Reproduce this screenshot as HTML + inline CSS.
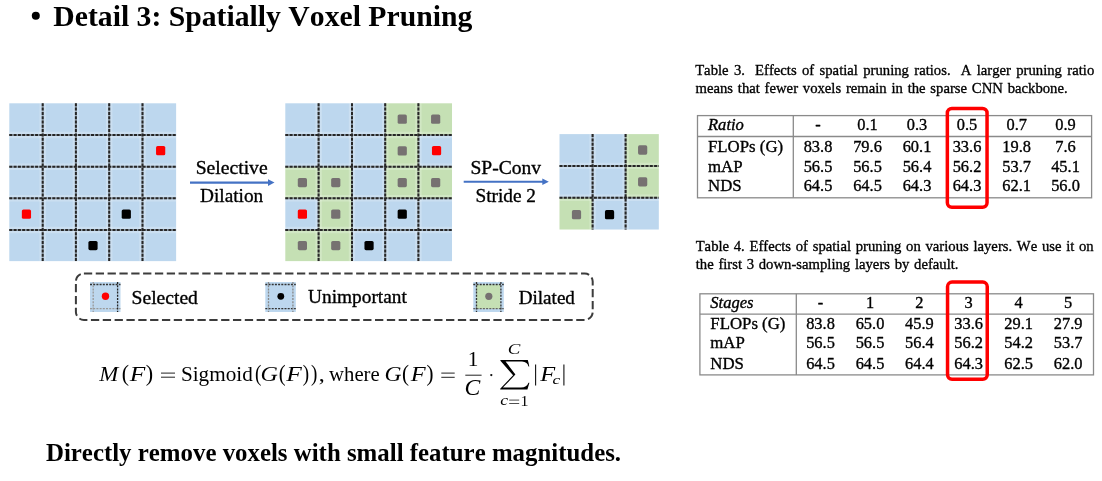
<!DOCTYPE html>
<html><head><meta charset="utf-8"><style>
html,body{margin:0;padding:0;background:#fff;}
body{width:1102px;height:481px;overflow:hidden;}
svg{display:block;will-change:transform;filter:blur(0.35px);font-family:"Liberation Serif",serif;font-kerning:none;font-variant-ligatures:none;}
text{white-space:pre;}
.halo{stroke:rgba(255,255,255,0.22);stroke-width:6.4;}
.ul{stroke:rgba(30,30,30,0.28);stroke-width:2;}
.dl{stroke:#262626;stroke-width:2;stroke-dasharray:3 1.3;}
.dl2{stroke-width:1.3;stroke-dasharray:2 1.2;}
.tl{stroke:#8a8a8a;stroke-width:1.3;}
text{fill:#000;}
.thk text, text.thk{stroke:#000;stroke-width:0.35px;stroke-linejoin:round;}
</style></head><body>
<svg width="1102" height="481" viewBox="0 0 1102 481">
<circle cx="35.8" cy="15.8" r="4" fill="#000"/>
<text transform="translate(53.28,26.00) scale(0.9900,1.0000)" font-size="30" font-weight="bold" >Detail 3: Spatially Voxel Pruning</text>
<text transform="translate(45.96,461.00) scale(0.9950,1.0000)" font-size="25" font-weight="bold" >Directly remove voxels with small feature magnitudes.</text>
<rect x="9.30" y="103.30" width="33.42" height="31.72" fill="#BDD7EE"/>
<rect x="42.70" y="103.30" width="33.22" height="31.72" fill="#BDD7EE"/>
<rect x="75.90" y="103.30" width="33.32" height="31.72" fill="#BDD7EE"/>
<rect x="109.20" y="103.30" width="33.32" height="31.72" fill="#BDD7EE"/>
<rect x="142.50" y="103.30" width="33.62" height="31.72" fill="#BDD7EE"/>
<rect x="9.30" y="135.00" width="33.42" height="31.82" fill="#BDD7EE"/>
<rect x="42.70" y="135.00" width="33.22" height="31.82" fill="#BDD7EE"/>
<rect x="75.90" y="135.00" width="33.32" height="31.82" fill="#BDD7EE"/>
<rect x="109.20" y="135.00" width="33.32" height="31.82" fill="#BDD7EE"/>
<rect x="142.50" y="135.00" width="33.62" height="31.82" fill="#BDD7EE"/>
<rect x="9.30" y="166.80" width="33.42" height="31.52" fill="#BDD7EE"/>
<rect x="42.70" y="166.80" width="33.22" height="31.52" fill="#BDD7EE"/>
<rect x="75.90" y="166.80" width="33.32" height="31.52" fill="#BDD7EE"/>
<rect x="109.20" y="166.80" width="33.32" height="31.52" fill="#BDD7EE"/>
<rect x="142.50" y="166.80" width="33.62" height="31.52" fill="#BDD7EE"/>
<rect x="9.30" y="198.30" width="33.42" height="31.72" fill="#BDD7EE"/>
<rect x="42.70" y="198.30" width="33.22" height="31.72" fill="#BDD7EE"/>
<rect x="75.90" y="198.30" width="33.32" height="31.72" fill="#BDD7EE"/>
<rect x="109.20" y="198.30" width="33.32" height="31.72" fill="#BDD7EE"/>
<rect x="142.50" y="198.30" width="33.62" height="31.72" fill="#BDD7EE"/>
<rect x="9.30" y="230.00" width="33.42" height="31.12" fill="#BDD7EE"/>
<rect x="42.70" y="230.00" width="33.22" height="31.12" fill="#BDD7EE"/>
<rect x="75.90" y="230.00" width="33.32" height="31.12" fill="#BDD7EE"/>
<rect x="109.20" y="230.00" width="33.32" height="31.12" fill="#BDD7EE"/>
<rect x="142.50" y="230.00" width="33.62" height="31.12" fill="#BDD7EE"/>
<line x1="42.70" y1="103.3" x2="42.70" y2="261.10" class="halo"/>
<line x1="9.3" y1="135.00" x2="176.10" y2="135.00" class="halo"/>
<line x1="75.90" y1="103.3" x2="75.90" y2="261.10" class="halo"/>
<line x1="9.3" y1="166.80" x2="176.10" y2="166.80" class="halo"/>
<line x1="109.20" y1="103.3" x2="109.20" y2="261.10" class="halo"/>
<line x1="9.3" y1="198.30" x2="176.10" y2="198.30" class="halo"/>
<line x1="142.50" y1="103.3" x2="142.50" y2="261.10" class="halo"/>
<line x1="9.3" y1="230.00" x2="176.10" y2="230.00" class="halo"/>
<line x1="42.70" y1="103.3" x2="42.70" y2="261.10" class="ul"/>
<line x1="9.3" y1="135.00" x2="176.10" y2="135.00" class="ul"/>
<line x1="75.90" y1="103.3" x2="75.90" y2="261.10" class="ul"/>
<line x1="9.3" y1="166.80" x2="176.10" y2="166.80" class="ul"/>
<line x1="109.20" y1="103.3" x2="109.20" y2="261.10" class="ul"/>
<line x1="9.3" y1="198.30" x2="176.10" y2="198.30" class="ul"/>
<line x1="142.50" y1="103.3" x2="142.50" y2="261.10" class="ul"/>
<line x1="9.3" y1="230.00" x2="176.10" y2="230.00" class="ul"/>
<line x1="42.70" y1="103.3" x2="42.70" y2="261.10" class="dl"/>
<line x1="9.3" y1="135.00" x2="176.10" y2="135.00" class="dl"/>
<line x1="75.90" y1="103.3" x2="75.90" y2="261.10" class="dl"/>
<line x1="9.3" y1="166.80" x2="176.10" y2="166.80" class="dl"/>
<line x1="109.20" y1="103.3" x2="109.20" y2="261.10" class="dl"/>
<line x1="9.3" y1="198.30" x2="176.10" y2="198.30" class="dl"/>
<line x1="142.50" y1="103.3" x2="142.50" y2="261.10" class="dl"/>
<line x1="9.3" y1="230.00" x2="176.10" y2="230.00" class="dl"/>
<rect x="156.05" y="145.95" width="9.2" height="9.3" rx="1.6" fill="#FF0000"/>
<rect x="21.85" y="209.50" width="9.2" height="9.3" rx="1.6" fill="#FF0000"/>
<rect x="121.70" y="209.50" width="9.2" height="9.3" rx="1.6" fill="#000000"/>
<rect x="88.40" y="240.90" width="9.2" height="9.3" rx="1.6" fill="#000000"/>
<rect x="285.30" y="103.30" width="33.32" height="31.72" fill="#BDD7EE"/>
<rect x="318.60" y="103.30" width="33.42" height="31.72" fill="#BDD7EE"/>
<rect x="352.00" y="103.30" width="33.22" height="31.72" fill="#BDD7EE"/>
<rect x="385.20" y="103.30" width="33.22" height="31.72" fill="#C5E0B4"/>
<rect x="418.40" y="103.30" width="33.62" height="31.72" fill="#C5E0B4"/>
<rect x="285.30" y="135.00" width="33.32" height="31.82" fill="#BDD7EE"/>
<rect x="318.60" y="135.00" width="33.42" height="31.82" fill="#BDD7EE"/>
<rect x="352.00" y="135.00" width="33.22" height="31.82" fill="#BDD7EE"/>
<rect x="385.20" y="135.00" width="33.22" height="31.82" fill="#C5E0B4"/>
<rect x="418.40" y="135.00" width="33.62" height="31.82" fill="#BDD7EE"/>
<rect x="285.30" y="166.80" width="33.32" height="31.52" fill="#C5E0B4"/>
<rect x="318.60" y="166.80" width="33.42" height="31.52" fill="#C5E0B4"/>
<rect x="352.00" y="166.80" width="33.22" height="31.52" fill="#BDD7EE"/>
<rect x="385.20" y="166.80" width="33.22" height="31.52" fill="#C5E0B4"/>
<rect x="418.40" y="166.80" width="33.62" height="31.52" fill="#C5E0B4"/>
<rect x="285.30" y="198.30" width="33.32" height="31.72" fill="#BDD7EE"/>
<rect x="318.60" y="198.30" width="33.42" height="31.72" fill="#C5E0B4"/>
<rect x="352.00" y="198.30" width="33.22" height="31.72" fill="#BDD7EE"/>
<rect x="385.20" y="198.30" width="33.22" height="31.72" fill="#BDD7EE"/>
<rect x="418.40" y="198.30" width="33.62" height="31.72" fill="#BDD7EE"/>
<rect x="285.30" y="230.00" width="33.32" height="31.12" fill="#C5E0B4"/>
<rect x="318.60" y="230.00" width="33.42" height="31.12" fill="#C5E0B4"/>
<rect x="352.00" y="230.00" width="33.22" height="31.12" fill="#BDD7EE"/>
<rect x="385.20" y="230.00" width="33.22" height="31.12" fill="#BDD7EE"/>
<rect x="418.40" y="230.00" width="33.62" height="31.12" fill="#BDD7EE"/>
<line x1="318.60" y1="103.3" x2="318.60" y2="261.10" class="halo"/>
<line x1="285.3" y1="135.00" x2="452.00" y2="135.00" class="halo"/>
<line x1="352.00" y1="103.3" x2="352.00" y2="261.10" class="halo"/>
<line x1="285.3" y1="166.80" x2="452.00" y2="166.80" class="halo"/>
<line x1="385.20" y1="103.3" x2="385.20" y2="261.10" class="halo"/>
<line x1="285.3" y1="198.30" x2="452.00" y2="198.30" class="halo"/>
<line x1="418.40" y1="103.3" x2="418.40" y2="261.10" class="halo"/>
<line x1="285.3" y1="230.00" x2="452.00" y2="230.00" class="halo"/>
<line x1="318.60" y1="103.3" x2="318.60" y2="261.10" class="ul"/>
<line x1="285.3" y1="135.00" x2="452.00" y2="135.00" class="ul"/>
<line x1="352.00" y1="103.3" x2="352.00" y2="261.10" class="ul"/>
<line x1="285.3" y1="166.80" x2="452.00" y2="166.80" class="ul"/>
<line x1="385.20" y1="103.3" x2="385.20" y2="261.10" class="ul"/>
<line x1="285.3" y1="198.30" x2="452.00" y2="198.30" class="ul"/>
<line x1="418.40" y1="103.3" x2="418.40" y2="261.10" class="ul"/>
<line x1="285.3" y1="230.00" x2="452.00" y2="230.00" class="ul"/>
<line x1="318.60" y1="103.3" x2="318.60" y2="261.10" class="dl"/>
<line x1="285.3" y1="135.00" x2="452.00" y2="135.00" class="dl"/>
<line x1="352.00" y1="103.3" x2="352.00" y2="261.10" class="dl"/>
<line x1="285.3" y1="166.80" x2="452.00" y2="166.80" class="dl"/>
<line x1="385.20" y1="103.3" x2="385.20" y2="261.10" class="dl"/>
<line x1="285.3" y1="198.30" x2="452.00" y2="198.30" class="dl"/>
<line x1="418.40" y1="103.3" x2="418.40" y2="261.10" class="dl"/>
<line x1="285.3" y1="230.00" x2="452.00" y2="230.00" class="dl"/>
<rect x="397.65" y="114.50" width="9.2" height="9.3" rx="1.6" fill="#767171"/>
<rect x="431.05" y="114.50" width="9.2" height="9.3" rx="1.6" fill="#767171"/>
<rect x="397.65" y="146.25" width="9.2" height="9.3" rx="1.6" fill="#767171"/>
<rect x="431.95" y="145.95" width="9.2" height="9.3" rx="1.6" fill="#FF0000"/>
<rect x="297.80" y="177.90" width="9.2" height="9.3" rx="1.6" fill="#767171"/>
<rect x="331.15" y="177.90" width="9.2" height="9.3" rx="1.6" fill="#767171"/>
<rect x="397.65" y="177.90" width="9.2" height="9.3" rx="1.6" fill="#767171"/>
<rect x="431.05" y="177.90" width="9.2" height="9.3" rx="1.6" fill="#767171"/>
<rect x="297.80" y="209.50" width="9.2" height="9.3" rx="1.6" fill="#FF0000"/>
<rect x="331.15" y="209.50" width="9.2" height="9.3" rx="1.6" fill="#767171"/>
<rect x="397.65" y="209.50" width="9.2" height="9.3" rx="1.6" fill="#000000"/>
<rect x="297.80" y="240.90" width="9.2" height="9.3" rx="1.6" fill="#767171"/>
<rect x="331.15" y="240.90" width="9.2" height="9.3" rx="1.6" fill="#767171"/>
<rect x="364.45" y="240.90" width="9.2" height="9.3" rx="1.6" fill="#000000"/>
<rect x="559.50" y="134.10" width="33.12" height="31.82" fill="#BDD7EE"/>
<rect x="592.60" y="134.10" width="33.02" height="31.82" fill="#BDD7EE"/>
<rect x="625.60" y="134.10" width="33.22" height="31.82" fill="#C5E0B4"/>
<rect x="559.50" y="165.90" width="33.12" height="31.82" fill="#BDD7EE"/>
<rect x="592.60" y="165.90" width="33.02" height="31.82" fill="#BDD7EE"/>
<rect x="625.60" y="165.90" width="33.22" height="31.82" fill="#C5E0B4"/>
<rect x="559.50" y="197.70" width="33.12" height="31.82" fill="#C5E0B4"/>
<rect x="592.60" y="197.70" width="33.02" height="31.82" fill="#BDD7EE"/>
<rect x="625.60" y="197.70" width="33.22" height="31.82" fill="#BDD7EE"/>
<line x1="592.60" y1="134.1" x2="592.60" y2="229.50" class="halo"/>
<line x1="559.5" y1="165.90" x2="658.80" y2="165.90" class="halo"/>
<line x1="625.60" y1="134.1" x2="625.60" y2="229.50" class="halo"/>
<line x1="559.5" y1="197.70" x2="658.80" y2="197.70" class="halo"/>
<line x1="592.60" y1="134.1" x2="592.60" y2="229.50" class="ul"/>
<line x1="559.5" y1="165.90" x2="658.80" y2="165.90" class="ul"/>
<line x1="625.60" y1="134.1" x2="625.60" y2="229.50" class="ul"/>
<line x1="559.5" y1="197.70" x2="658.80" y2="197.70" class="ul"/>
<line x1="592.60" y1="134.1" x2="592.60" y2="229.50" class="dl"/>
<line x1="559.5" y1="165.90" x2="658.80" y2="165.90" class="dl"/>
<line x1="625.60" y1="134.1" x2="625.60" y2="229.50" class="dl"/>
<line x1="559.5" y1="197.70" x2="658.80" y2="197.70" class="dl"/>
<rect x="638.05" y="145.35" width="9.2" height="9.3" rx="1.6" fill="#767171"/>
<rect x="638.05" y="177.15" width="9.2" height="9.3" rx="1.6" fill="#767171"/>
<rect x="571.90" y="210.05" width="9.2" height="9.3" rx="1.6" fill="#767171"/>
<rect x="604.95" y="210.05" width="9.2" height="9.3" rx="1.6" fill="#000000"/>
<line x1="190" y1="182.6" x2="269.5" y2="182.6" stroke="#4472C4" stroke-width="2.1"/><path d="M268.0,179.29999999999998 L274.5,182.6 L268.0,185.9 Z" fill="#4472C4"/>
<line x1="463.7" y1="181.8" x2="543.8" y2="181.8" stroke="#4472C4" stroke-width="2.1"/><path d="M542.3,178.5 L548.8,181.8 L542.3,185.10000000000002 Z" fill="#4472C4"/>
<g class="thk"><text transform="translate(195.69,174.40) scale(1.0339,1.0000)" font-size="19" >Selective</text>
<text transform="translate(200.04,202.00) scale(1.0157,1.0000)" font-size="19" >Dilation</text>
<text transform="translate(470.49,174.00) scale(1.0302,1.0000)" font-size="19" >SP-Conv</text>
<text transform="translate(475.51,202.00) scale(1.0154,1.0000)" font-size="19" >Stride 2</text>
<text transform="translate(131.59,303.90) scale(1.0310,1.0000)" font-size="19" >Selected</text>
<text transform="translate(308.09,303.40) scale(1.0177,1.0000)" font-size="19" >Unimportant</text>
<text transform="translate(518.75,303.70) scale(1.0046,1.0000)" font-size="19" >Dilated</text></g>
<rect x="75.9" y="273.5" width="516.8" height="46.4" rx="8" fill="none" stroke="#3c3c3c" stroke-width="2" stroke-dasharray="8.3 3.5369"/><rect x="90" y="282" width="30.5" height="30" fill="#BDD7EE"/>
<line x1="90" y1="284.5" x2="120.5" y2="284.5" class="dl2" stroke="#333"/>
<line x1="90" y1="308.6" x2="120.5" y2="308.6" class="dl2" stroke="#999"/>
<line x1="93.2" y1="282" x2="93.2" y2="312" class="dl2" stroke="#999"/>
<line x1="117.6" y1="282" x2="117.6" y2="312" class="dl2" stroke="#222"/>
<circle cx="105.5" cy="296.3" r="3.7" fill="#FF0000"/><rect x="265.3" y="282" width="30.5" height="30" fill="#BDD7EE"/>
<line x1="265.3" y1="284.5" x2="295.8" y2="284.5" class="dl2" stroke="#333"/>
<line x1="265.3" y1="308.6" x2="295.8" y2="308.6" class="dl2" stroke="#333"/>
<line x1="268.5" y1="282" x2="268.5" y2="312" class="dl2" stroke="#888"/>
<line x1="292.90000000000003" y1="282" x2="292.90000000000003" y2="312" class="dl2" stroke="#888"/>
<circle cx="280.8" cy="296.3" r="3.4" fill="#000000"/><rect x="473.3" y="282" width="30.5" height="30" fill="#BDD7EE"/>
<rect x="476.3" y="284.5" width="24" height="24.5" fill="#C5E0B4"/>
<line x1="473.3" y1="284.5" x2="503.8" y2="284.5" class="dl2" stroke="#333"/>
<line x1="473.3" y1="308.6" x2="503.8" y2="308.6" class="dl2" stroke="#666"/>
<line x1="476.5" y1="282" x2="476.5" y2="312" class="dl2" stroke="#333"/>
<line x1="500.90000000000003" y1="282" x2="500.90000000000003" y2="312" class="dl2" stroke="#333"/>
<circle cx="488.8" cy="296.3" r="3.6" fill="#767171"/>
<text transform="translate(99.37,380.60) scale(1.0654,1.0000)" font-size="21.5" font-style="italic" >M</text>
<text transform="translate(121.74,380.80) scale(1.0902,1.1745)" font-size="20" >(</text>
<text transform="translate(129.74,380.60) scale(1.1842,1.0000)" font-size="21.5" font-style="italic" >F</text>
<text transform="translate(145.68,380.80) scale(1.1097,1.1745)" font-size="20" >)</text>
<line x1="161" y1="373.1" x2="175" y2="373.1" stroke="#222" stroke-width="1.0"/><line x1="161" y1="377.2" x2="175" y2="377.2" stroke="#222" stroke-width="1.0"/>
<text transform="translate(180.88,380.60) scale(1.0602,1.0000)" font-size="20" >Sigmoid</text>
<text transform="translate(255.06,380.80) scale(0.9539,1.1745)" font-size="20" >(</text>
<text transform="translate(260.38,380.60) scale(1.1168,1.0000)" font-size="21.5" font-style="italic" >G</text>
<text transform="translate(278.69,380.80) scale(1.0318,1.1745)" font-size="20" >(</text>
<text transform="translate(286.34,380.60) scale(1.1842,1.0000)" font-size="21.5" font-style="italic" >F</text>
<text transform="translate(302.69,380.80) scale(0.9539,1.1745)" font-size="20" >)</text>
<text transform="translate(310.89,380.80) scale(0.9539,1.1745)" font-size="20" >)</text>
<text transform="translate(318.78,380.60) scale(1.2087,1.0000)" font-size="20" >,</text>
<text transform="translate(329.08,380.60) scale(1.0365,1.0000)" font-size="20" >where</text>
<text transform="translate(384.50,380.60) scale(1.0952,1.0000)" font-size="21.5" font-style="italic" >G</text>
<text transform="translate(401.98,380.80) scale(1.0513,1.1745)" font-size="20" >(</text>
<text transform="translate(410.63,380.60) scale(1.1320,1.0000)" font-size="21.5" font-style="italic" >F</text>
<text transform="translate(426.52,380.80) scale(1.0513,1.1745)" font-size="20" >)</text>
<line x1="441.3" y1="373.1" x2="454.7" y2="373.1" stroke="#222" stroke-width="1.0"/><line x1="441.3" y1="377.3" x2="454.7" y2="377.3" stroke="#222" stroke-width="1.0"/>
<text transform="translate(467.63,365.60) scale(1.0652,1.0149)" font-size="20" >1</text>
<line x1="465.3" y1="375.2" x2="481.6" y2="375.2" stroke="#222" stroke-width="1.0"/>
<text transform="translate(464.58,395.19) scale(1.1554,1.1044)" font-size="20.5" font-style="italic" >C</text>
<circle cx="491.3" cy="375.1" r="1.15" fill="#111"/>
<path d="M500.4,359.9 L527.8,359.9 Q528.6,362.5 529.3,366.5 L528.5,366.5 Q527.6,361.8 522,361.4 L505.6,361.4 L515.4,374.6 L502.9,387.6 L521,387.6 Q526.8,387.4 528.5,382.8 L529.4,382.8 L527.4,389.6 L500.2,389.6 L500.2,388.8 L513.1,375.2 L500.4,360.7 Z" fill="#000"/>
<text transform="translate(507.75,354.16) scale(1.3002,1.0067)" font-size="14.5" font-style="italic" >C</text>
<text transform="translate(500.16,405.46) scale(1.2605,1.0396)" font-size="14" font-style="italic" >c</text>
<line x1="509.2" y1="400.1" x2="519.2" y2="400.1" stroke="#222" stroke-width="0.8"/><line x1="509.2" y1="403.5" x2="519.2" y2="403.5" stroke="#222" stroke-width="0.8"/>
<text transform="translate(520.50,405.50) scale(1.1362,1.0063)" font-size="14" >1</text>
<line x1="535.6" y1="364.6" x2="535.6" y2="385.5" stroke="#111" stroke-width="1.1"/>
<text transform="translate(540.13,380.60) scale(1.1395,1.0000)" font-size="21.5" font-style="italic" >F</text>
<text transform="translate(552.57,383.69) scale(1.2250,0.8168)" font-size="14" font-style="italic" >c</text>
<line x1="563.9" y1="364.6" x2="563.9" y2="385.5" stroke="#111" stroke-width="1.1"/>
<g class="thk"><text transform="translate(695.13,74.8) scale(0.955,1.0)" font-size="15.4">Table</text>
<text transform="translate(733.92,74.8) scale(0.955,1.0)" font-size="15.4">3.</text>
<text transform="translate(755.03,74.8) scale(0.955,1.0)" font-size="15.4">Effects</text>
<text transform="translate(801.98,74.8) scale(0.955,1.0)" font-size="15.4">of</text>
<text transform="translate(819.54,74.8) scale(0.955,1.0)" font-size="15.4">spatial</text>
<text transform="translate(863.24,74.8) scale(0.955,1.0)" font-size="15.4">pruning</text>
<text transform="translate(914.29,74.8) scale(0.955,1.0)" font-size="15.4">ratios.</text>
<text transform="translate(960.73,74.8) scale(0.955,1.0)" font-size="15.4">A</text>
<text transform="translate(976.66,74.8) scale(0.955,1.0)" font-size="15.4">larger</text>
<text transform="translate(1016.25,74.8) scale(0.955,1.0)" font-size="15.4">pruning</text>
<text transform="translate(1067.31,74.8) scale(0.955,1.0)" font-size="15.4">ratio</text>
<text transform="translate(695.49,92.9) scale(0.955,1.0)" font-size="15.4">means</text>
<text transform="translate(737.80,92.9) scale(0.955,1.0)" font-size="15.4">that</text>
<text transform="translate(764.59,92.9) scale(0.955,1.0)" font-size="15.4">fewer</text>
<text transform="translate(802.79,92.9) scale(0.955,1.0)" font-size="15.4">voxels</text>
<text transform="translate(845.92,92.9) scale(0.955,1.0)" font-size="15.4">remain</text>
<text transform="translate(891.49,92.9) scale(0.955,1.0)" font-size="15.4">in</text>
<text transform="translate(907.67,92.9) scale(0.955,1.0)" font-size="15.4">the</text>
<text transform="translate(930.37,92.9) scale(0.955,1.0)" font-size="15.4">sparse</text>
<text transform="translate(971.86,92.9) scale(0.955,1.0)" font-size="15.4">CNN</text>
<text transform="translate(1007.64,92.9) scale(0.955,1.0)" font-size="15.4">backbone.</text>
<text transform="translate(695.63,251) scale(0.955,1.0)" font-size="15.4">Table</text>
<text transform="translate(733.77,251) scale(0.955,1.0)" font-size="15.4">4.</text>
<text transform="translate(749.45,251) scale(0.955,1.0)" font-size="15.4">Effects</text>
<text transform="translate(795.75,251) scale(0.955,1.0)" font-size="15.4">of</text>
<text transform="translate(812.66,251) scale(0.955,1.0)" font-size="15.4">spatial</text>
<text transform="translate(855.70,251) scale(0.955,1.0)" font-size="15.4">pruning</text>
<text transform="translate(906.11,251) scale(0.955,1.0)" font-size="15.4">on</text>
<text transform="translate(925.47,251) scale(0.955,1.0)" font-size="15.4">various</text>
<text transform="translate(973.42,251) scale(0.955,1.0)" font-size="15.4">layers.</text>
<text transform="translate(1016.87,251) scale(0.955,1.0)" font-size="15.4">We</text>
<text transform="translate(1041.93,251) scale(0.955,1.0)" font-size="15.4">use</text>
<text transform="translate(1066.19,251) scale(0.955,1.0)" font-size="15.4">it</text>
<text transform="translate(1079.02,251) scale(0.955,1.0)" font-size="15.4">on</text>
<text transform="translate(695.76,269) scale(0.955,1.0)" font-size="15.4">the</text>
<text transform="translate(718.38,269) scale(0.955,1.0)" font-size="15.4">first</text>
<text transform="translate(746.74,269) scale(0.955,1.0)" font-size="15.4">3</text>
<text transform="translate(758.75,269) scale(0.955,1.0)" font-size="15.4">down-sampling</text>
<text transform="translate(854.92,269) scale(0.955,1.0)" font-size="15.4">layers</text>
<text transform="translate(894.69,269) scale(0.955,1.0)" font-size="15.4">by</text>
<text transform="translate(914.06,269) scale(0.955,1.0)" font-size="15.4">default.</text></g>
<g class="thk"><rect x="697.5" y="115.6" width="394.0999999999999" height="82.20000000000002" fill="none" class="tl"/>
<line x1="697.5" y1="136.5" x2="1091.6" y2="136.5" class="tl"/>
<line x1="793.3" y1="115.6" x2="793.3" y2="197.8" class="tl"/>
<text transform="translate(708,130.4) scale(1.01,1.07)" font-size="16.4" font-style="italic">Ratio</text>
<text transform="translate(818,130.4) scale(1.0,1.07)" font-size="16.4" text-anchor="middle">-</text>
<text transform="translate(867.5,130.4) scale(1.0,1.07)" font-size="16.4" text-anchor="middle">0.1</text>
<text transform="translate(917,130.4) scale(1.0,1.07)" font-size="16.4" text-anchor="middle">0.3</text>
<text transform="translate(967,130.4) scale(1.0,1.07)" font-size="16.4" text-anchor="middle">0.5</text>
<text transform="translate(1016.7,130.4) scale(1.0,1.07)" font-size="16.4" text-anchor="middle">0.7</text>
<text transform="translate(1065.5,130.4) scale(1.0,1.07)" font-size="16.4" text-anchor="middle">0.9</text>
<text transform="translate(708,151.8) scale(1.025,1.07)" font-size="16.4">FLOPs (G)</text>
<text transform="translate(818,151.8) scale(1.0,1.07)" font-size="16.4" text-anchor="middle">83.8</text>
<text transform="translate(867.5,151.8) scale(1.0,1.07)" font-size="16.4" text-anchor="middle">79.6</text>
<text transform="translate(917,151.8) scale(1.0,1.07)" font-size="16.4" text-anchor="middle">60.1</text>
<text transform="translate(967,151.8) scale(1.0,1.07)" font-size="16.4" text-anchor="middle">33.6</text>
<text transform="translate(1016.7,151.8) scale(1.0,1.07)" font-size="16.4" text-anchor="middle">19.8</text>
<text transform="translate(1065.5,151.8) scale(1.0,1.07)" font-size="16.4" text-anchor="middle">7.6</text>
<text transform="translate(708,171.6) scale(1.025,1.07)" font-size="16.4">mAP</text>
<text transform="translate(818,171.6) scale(1.0,1.07)" font-size="16.4" text-anchor="middle">56.5</text>
<text transform="translate(867.5,171.6) scale(1.0,1.07)" font-size="16.4" text-anchor="middle">56.5</text>
<text transform="translate(917,171.6) scale(1.0,1.07)" font-size="16.4" text-anchor="middle">56.4</text>
<text transform="translate(967,171.6) scale(1.0,1.07)" font-size="16.4" text-anchor="middle">56.2</text>
<text transform="translate(1016.7,171.6) scale(1.0,1.07)" font-size="16.4" text-anchor="middle">53.7</text>
<text transform="translate(1065.5,171.6) scale(1.0,1.07)" font-size="16.4" text-anchor="middle">45.1</text>
<text transform="translate(708,191.2) scale(1.025,1.07)" font-size="16.4">NDS</text>
<text transform="translate(818,191.2) scale(1.0,1.07)" font-size="16.4" text-anchor="middle">64.5</text>
<text transform="translate(867.5,191.2) scale(1.0,1.07)" font-size="16.4" text-anchor="middle">64.5</text>
<text transform="translate(917,191.2) scale(1.0,1.07)" font-size="16.4" text-anchor="middle">64.3</text>
<text transform="translate(967,191.2) scale(1.0,1.07)" font-size="16.4" text-anchor="middle">64.3</text>
<text transform="translate(1016.7,191.2) scale(1.0,1.07)" font-size="16.4" text-anchor="middle">62.1</text>
<text transform="translate(1065.5,191.2) scale(1.0,1.07)" font-size="16.4" text-anchor="middle">56.0</text></g>
<g class="thk"><rect x="699.9" y="293.8" width="393.6" height="81.09999999999997" fill="none" class="tl"/>
<line x1="699.9" y1="314.1" x2="1093.5" y2="314.1" class="tl"/>
<line x1="796.3" y1="293.8" x2="796.3" y2="374.9" class="tl"/>
<text transform="translate(710.3,307.8) scale(1.01,1.07)" font-size="16.4" font-style="italic">Stages</text>
<text transform="translate(820.5,307.8) scale(1.0,1.07)" font-size="16.4" text-anchor="middle">-</text>
<text transform="translate(870,307.8) scale(1.0,1.07)" font-size="16.4" text-anchor="middle">1</text>
<text transform="translate(919.4,307.8) scale(1.0,1.07)" font-size="16.4" text-anchor="middle">2</text>
<text transform="translate(968.7,307.8) scale(1.0,1.07)" font-size="16.4" text-anchor="middle">3</text>
<text transform="translate(1018.7,307.8) scale(1.0,1.07)" font-size="16.4" text-anchor="middle">4</text>
<text transform="translate(1068.2,307.8) scale(1.0,1.07)" font-size="16.4" text-anchor="middle">5</text>
<text transform="translate(710.3,328.6) scale(1.025,1.07)" font-size="16.4">FLOPs (G)</text>
<text transform="translate(820.5,328.6) scale(1.0,1.07)" font-size="16.4" text-anchor="middle">83.8</text>
<text transform="translate(870,328.6) scale(1.0,1.07)" font-size="16.4" text-anchor="middle">65.0</text>
<text transform="translate(919.4,328.6) scale(1.0,1.07)" font-size="16.4" text-anchor="middle">45.9</text>
<text transform="translate(968.7,328.6) scale(1.0,1.07)" font-size="16.4" text-anchor="middle">33.6</text>
<text transform="translate(1018.7,328.6) scale(1.0,1.07)" font-size="16.4" text-anchor="middle">29.1</text>
<text transform="translate(1068.2,328.6) scale(1.0,1.07)" font-size="16.4" text-anchor="middle">27.9</text>
<text transform="translate(710.3,348.4) scale(1.025,1.07)" font-size="16.4">mAP</text>
<text transform="translate(820.5,348.4) scale(1.0,1.07)" font-size="16.4" text-anchor="middle">56.5</text>
<text transform="translate(870,348.4) scale(1.0,1.07)" font-size="16.4" text-anchor="middle">56.5</text>
<text transform="translate(919.4,348.4) scale(1.0,1.07)" font-size="16.4" text-anchor="middle">56.4</text>
<text transform="translate(968.7,348.4) scale(1.0,1.07)" font-size="16.4" text-anchor="middle">56.2</text>
<text transform="translate(1018.7,348.4) scale(1.0,1.07)" font-size="16.4" text-anchor="middle">54.2</text>
<text transform="translate(1068.2,348.4) scale(1.0,1.07)" font-size="16.4" text-anchor="middle">53.7</text>
<text transform="translate(710.3,368.8) scale(1.025,1.07)" font-size="16.4">NDS</text>
<text transform="translate(820.5,368.8) scale(1.0,1.07)" font-size="16.4" text-anchor="middle">64.5</text>
<text transform="translate(870,368.8) scale(1.0,1.07)" font-size="16.4" text-anchor="middle">64.5</text>
<text transform="translate(919.4,368.8) scale(1.0,1.07)" font-size="16.4" text-anchor="middle">64.4</text>
<text transform="translate(968.7,368.8) scale(1.0,1.07)" font-size="16.4" text-anchor="middle">64.3</text>
<text transform="translate(1018.7,368.8) scale(1.0,1.07)" font-size="16.4" text-anchor="middle">62.5</text>
<text transform="translate(1068.2,368.8) scale(1.0,1.07)" font-size="16.4" text-anchor="middle">62.0</text></g>
<rect x="947.35" y="108.45" width="39.7" height="98.9" rx="4.5" fill="none" stroke="#FF0000" stroke-width="3.5"/><rect x="947.55" y="282.05" width="39.7" height="97.2" rx="4.5" fill="none" stroke="#FF0000" stroke-width="3.5"/>
</svg>
</body></html>
